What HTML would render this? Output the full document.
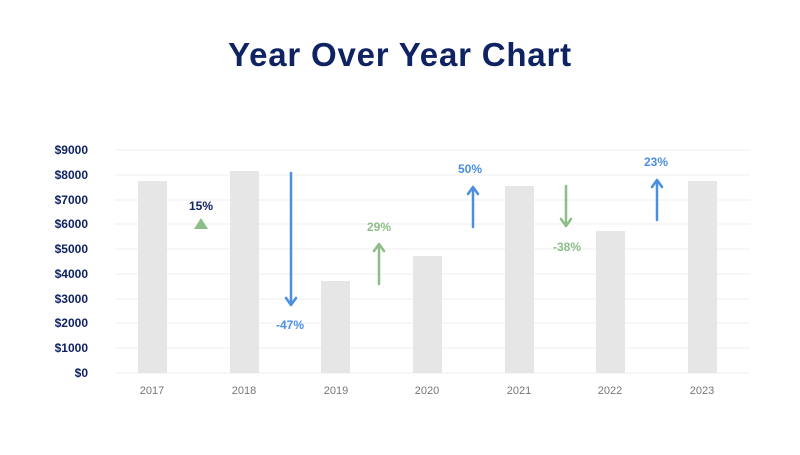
<!DOCTYPE html>
<html><head><style>
body{margin:0;background:#fff;width:800px;height:450px;overflow:hidden;font-family:"Liberation Sans",sans-serif}
</style></head><body>
<svg width="800" height="450" xmlns="http://www.w3.org/2000/svg" font-family="Liberation Sans, sans-serif">
<text x="400" y="66" text-anchor="middle" font-size="33" font-weight="bold" fill="#0f2363" letter-spacing="0.8">Year Over Year Chart</text>
<g stroke="#efefef" stroke-width="1">
<line x1="115" x2="750" y1="150" y2="150"/><line x1="115" x2="750" y1="175" y2="175"/>
<line x1="115" x2="750" y1="200" y2="200"/><line x1="115" x2="750" y1="224" y2="224"/>
<line x1="115" x2="750" y1="249" y2="249"/><line x1="115" x2="750" y1="274" y2="274"/>
<line x1="115" x2="750" y1="299" y2="299"/><line x1="115" x2="750" y1="323" y2="323"/>
<line x1="115" x2="750" y1="348" y2="348"/><line x1="115" x2="750" y1="373" y2="373"/>
</g>
<g font-size="12" font-weight="bold" fill="#0f2363" text-anchor="end">
<text x="88" y="154">$9000</text><text x="88" y="179">$8000</text><text x="88" y="204">$7000</text>
<text x="88" y="228">$6000</text><text x="88" y="253">$5000</text><text x="88" y="278">$4000</text>
<text x="88" y="303">$3000</text><text x="88" y="327">$2000</text><text x="88" y="352">$1000</text>
<text x="88" y="377">$0</text>
</g>
<g fill="#e6e6e6">
<rect x="138" y="181" width="29" height="192"/><rect x="230" y="171" width="29" height="202"/>
<rect x="321" y="281" width="29" height="92"/><rect x="413" y="256" width="29" height="117"/>
<rect x="505" y="186" width="29" height="187"/><rect x="596" y="231" width="29" height="142"/>
<rect x="688" y="181" width="29" height="192"/>
</g>
<g font-size="11" fill="#777" text-anchor="middle">
<text x="152" y="394">2017</text><text x="244" y="394">2018</text><text x="336" y="394">2019</text>
<text x="427" y="394">2020</text><text x="519" y="394">2021</text><text x="610" y="394">2022</text><text x="702" y="394">2023</text>
</g>
<g font-size="12" font-weight="bold" text-anchor="middle">
<text x="201" y="210" fill="#0f2363">15%</text>
<text x="290" y="329" fill="#4a8fe0">-47%</text>
<text x="379" y="231" fill="#8dbd88">29%</text>
<text x="470" y="173" fill="#4a8fe0">50%</text>
<text x="567" y="251" fill="#8dbd88">-38%</text>
<text x="656" y="166" fill="#4a8fe0">23%</text>
</g>
<polygon points="201,218 194,229 208,229" fill="#8dbd88"/>
<g stroke-width="2.5" fill="none" stroke-linecap="round" stroke-linejoin="round">
<g stroke="#4a8fe0">
<path d="M291 173 V305 M286 298 L291 305 L296 298"/>
<path d="M473 227 V187 M468 194 L473 187 L478 194"/>
<path d="M657 220 V180 M652 187 L657 180 L662 187"/>
</g>
<g stroke="#8dbd88">
<path d="M379 284 V244 M374 251 L379 244 L384 251"/>
<path d="M566 186 V226 M561 219 L566 226 L571 219"/>
</g>
</g>
</svg>
</body></html>
